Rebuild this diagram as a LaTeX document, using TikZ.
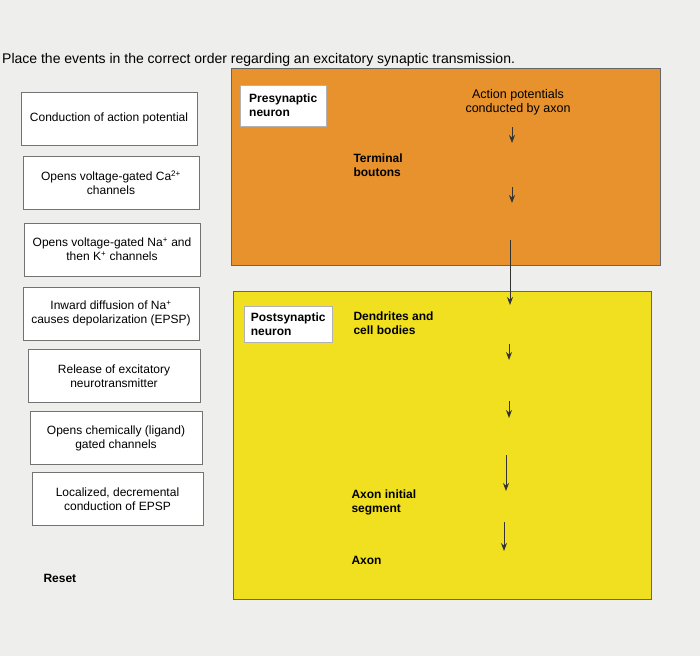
\documentclass[tikz,border=0pt]{standalone}
\usepackage{fontspec}
\setmainfont{Liberation Sans}
\usetikzlibrary{arrows.meta}
\definecolor{bg}{HTML}{EEEEEC}
\definecolor{org}{HTML}{E8922E}
\definecolor{yel}{HTML}{F0E020}
\tikzset{
 card/.style={draw=black!55,fill=white,line width=0.8pt,minimum width=176pt,minimum height=53pt,align=center,font=\fontsize{12}{14}\selectfont},
 tag/.style={draw=black!30,fill=white,inner sep=4pt,align=left,font=\bfseries\fontsize{12}{14}\selectfont,anchor=north west},
 lab/.style={align=left,font=\fontsize{12}{14}\selectfont,anchor=west},
 blab/.style={align=left,font=\bfseries\fontsize{12}{14}\selectfont,anchor=west},
 arr/.style={-{Stealth[length=8pt,width=6pt]},line width=1pt,black!80}
}
\begin{document}
\begin{tikzpicture}[x=1pt,y=-1pt]
\fill[bg] (0,0) rectangle (700,656);
\useasboundingbox (0,0) rectangle (700,656);
\node[anchor=west,font=\fontsize{14}{16}\selectfont,inner sep=1pt] (title) at (1,60) {Place the events in the correct order regarding an excitatory synaptic transmission.};
\node[draw=black!60,fill=org,line width=0.8pt,minimum width=429pt,minimum height=197pt,anchor=north west,inner sep=0] (pre) at (231,68) {};
\node[draw=black!60,fill=yel,line width=0.8pt,minimum width=418pt,minimum height=308pt,anchor=north west,inner sep=0] (post) at (233,291) {};
\node[card] (c1) at (109,118.5) {Conduction of action potential};
\node[card] (c2) at (111,183) {Opens voltage-gated Ca\textsuperscript{2+}\\channels};
\node[card] (c3) at (112,249.5) {Opens voltage-gated Na\textsuperscript{+} and\\then K\textsuperscript{+} channels};
\node[card] (c4) at (111,313.5) {Inward diffusion of Na\textsuperscript{+}\\causes depolarization (EPSP)};
\node[card,minimum width=172pt] (c5) at (114,376) {Release of excitatory\\neurotransmitter};
\node[card,minimum width=172pt] (c6) at (116,438) {Opens chemically (ligand)\\gated channels};
\node[card,minimum width=171pt] (c7) at (117.5,499) {Localized, decremental\\conduction of EPSP};
\node[blab] (reset) at (40,578) {Reset};
\node[tag,minimum width=86pt,minimum height=41pt] (pren) at (240,85) {Presynaptic\\neuron};
\node[tag,minimum width=88pt,minimum height=36pt] (postn) at (244,306) {Postsynaptic\\neuron};
\node[align=center,font=\fontsize{12.5}{14}\selectfont] (apc) at (518,102) {Action potentials\\conducted by axon};
\node[blab] (tb) at (350,165) {Terminal\\boutons};
\node[blab] (dc) at (350,323) {Dendrites and\\cell bodies};
\node[blab] (ais) at (348,502) {Axon initial\\segment};
\node[blab] (ax) at (348,560) {Axon};
\coordinate (a1s) at (512,127); \coordinate (a1e) at (512,143);
\coordinate (a2s) at (512,187); \coordinate (a2e) at (512,203);
\coordinate (a3s) at (510,240); \coordinate (a3e) at (510,305);
\coordinate (a4s) at (509,344); \coordinate (a4e) at (509,360);
\coordinate (a5s) at (509,401); \coordinate (a5e) at (509,418);
\coordinate (a6s) at (506,455); \coordinate (a6e) at (506,491);
\coordinate (a7s) at (504,522); \coordinate (a7e) at (504,551);
\foreach \i in {1,...,7} \draw[arr] (a\i s) -- (a\i e);
\end{tikzpicture}
\end{document}
